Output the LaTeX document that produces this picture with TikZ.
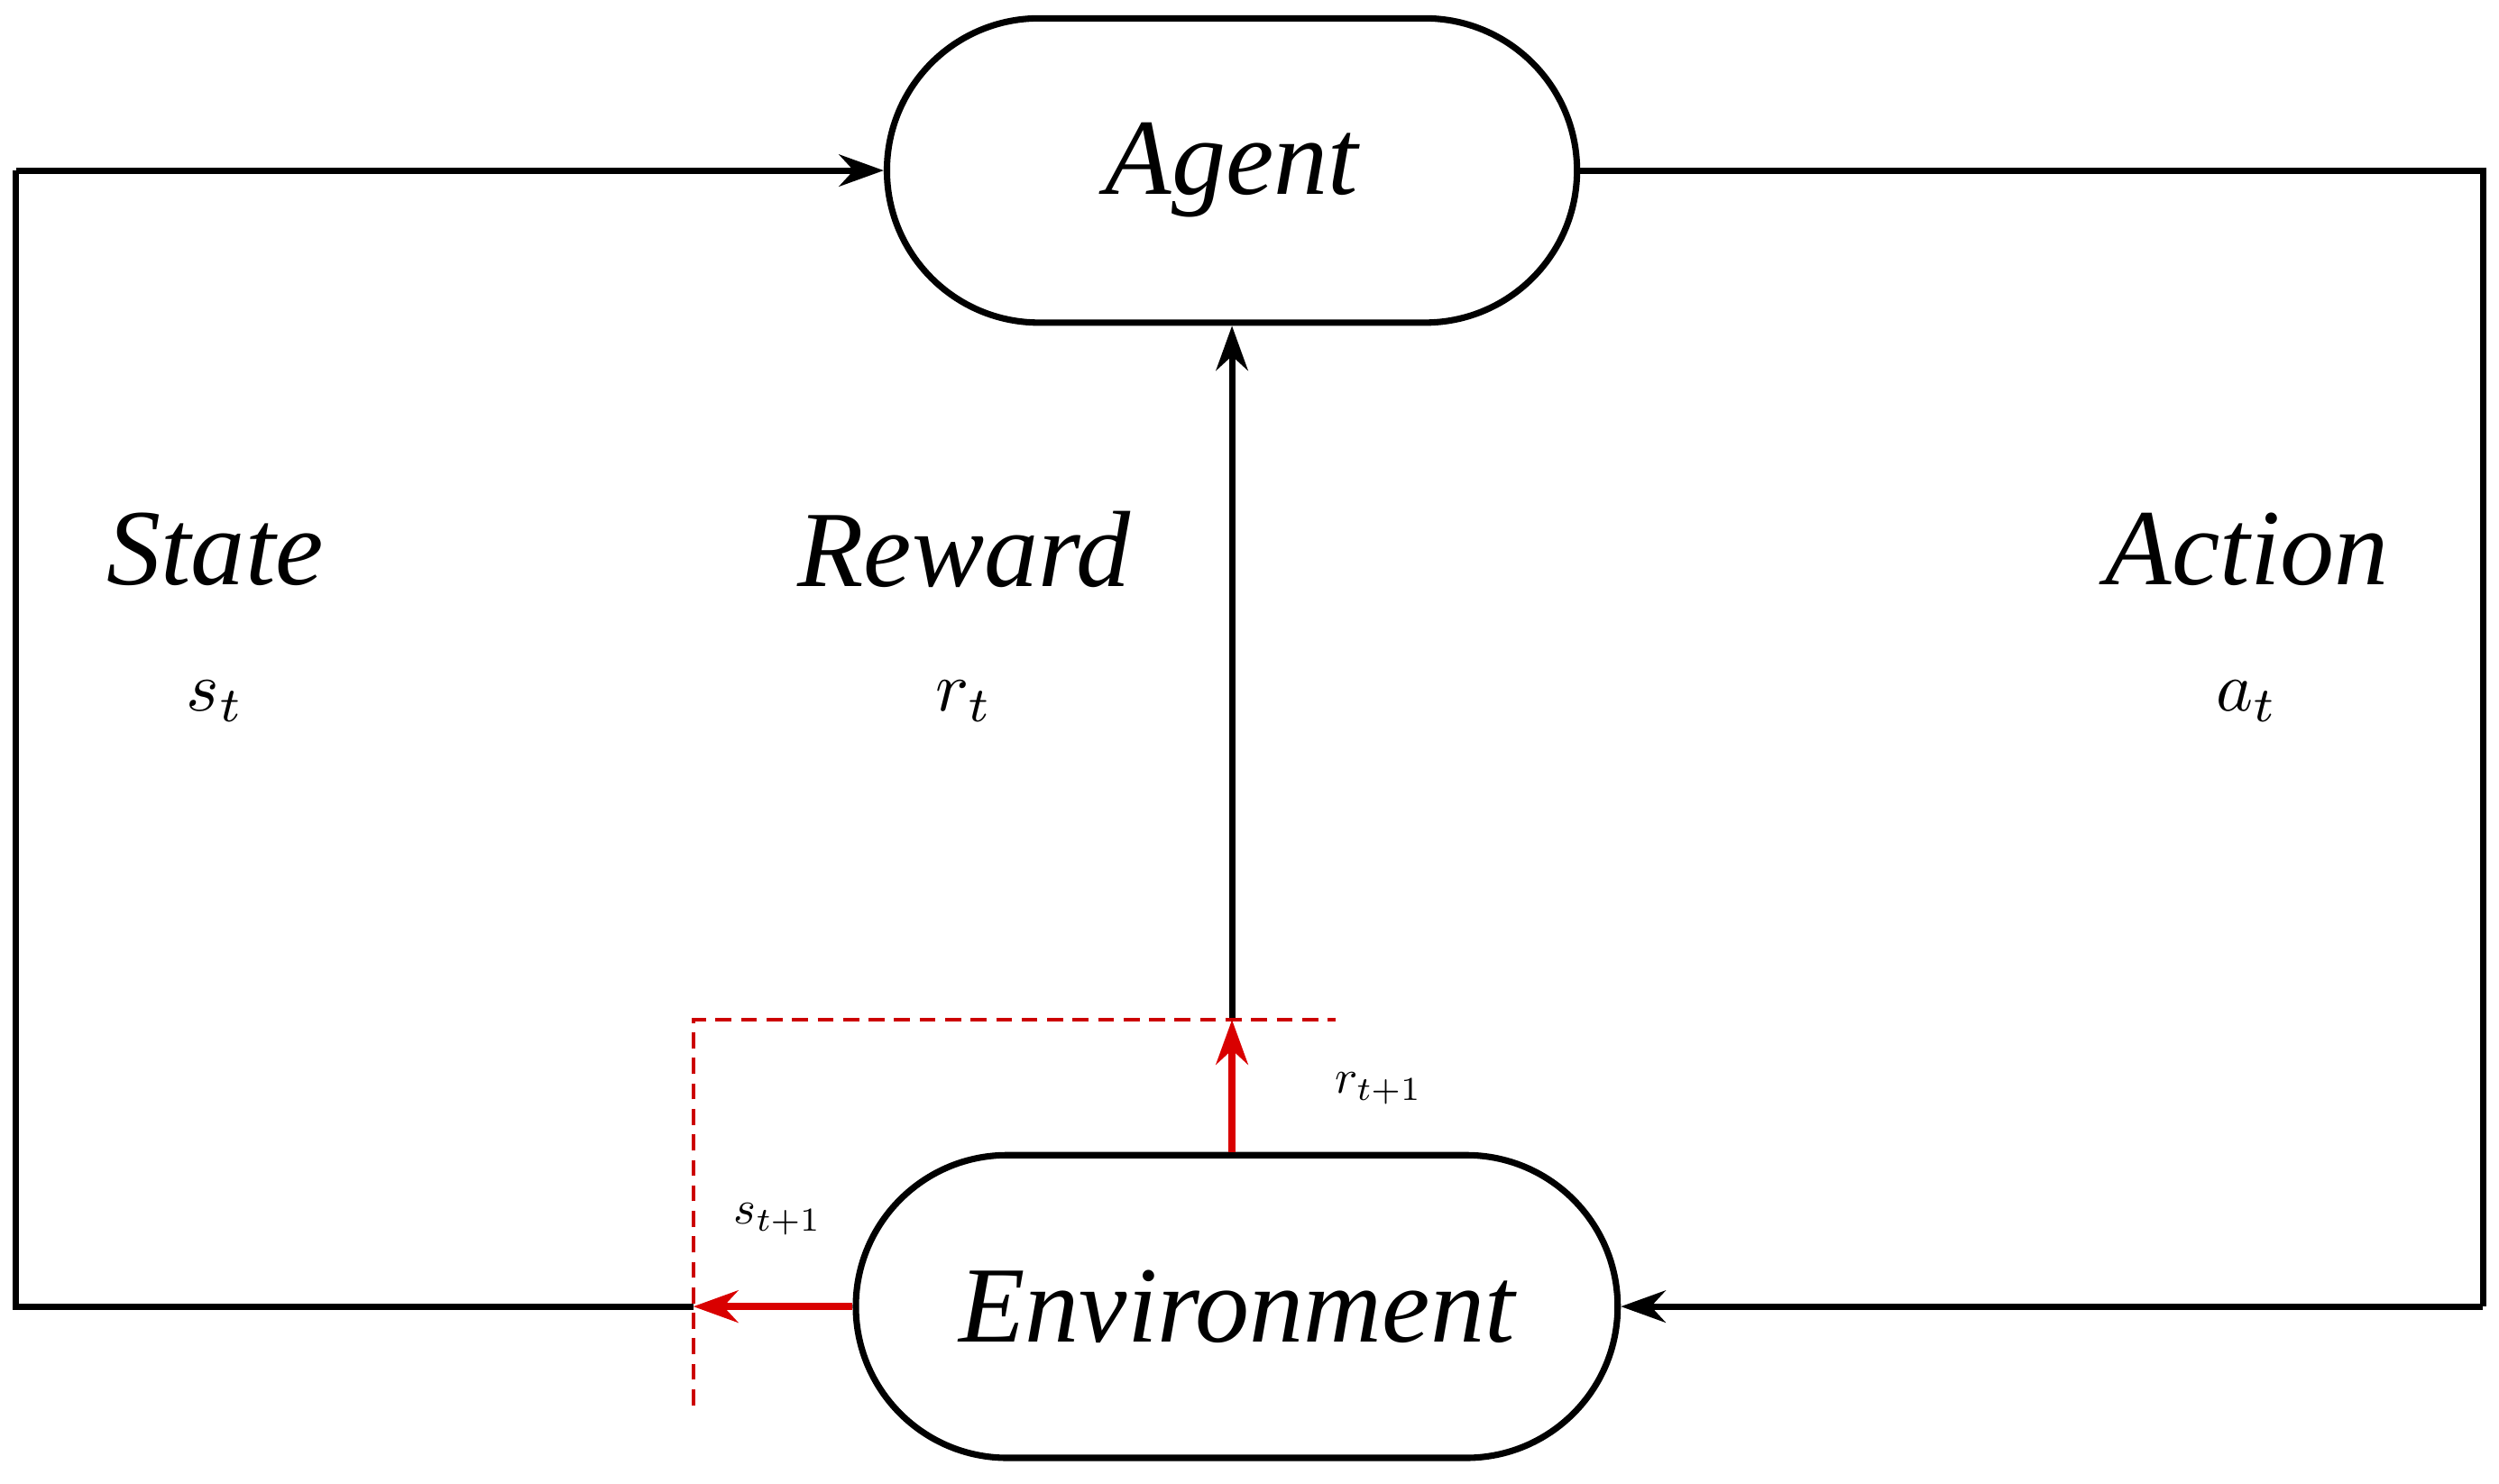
\documentclass[tikz,border=0pt]{standalone}
\usepackage{fontspec}
\setmainfont{Liberation Serif}
\usetikzlibrary{arrows.meta,shapes.misc}
\begin{document}
\begin{tikzpicture}[x=0.5pt,y=-0.5pt,
  box/.style={draw,line width=2pt,rounded rectangle,inner sep=0pt,font=\fontsize{34}{40}\selectfont\itshape},
  lbl/.style={font=\fontsize{34}{40}\selectfont\itshape,inner sep=0pt},
  mlbl/.style={inner sep=0pt},
  sm/.style={inner sep=0pt},
  arr/.style={line width=2pt,-{Stealth[length=14pt,width=10pt]}},
  rarr/.style={line width=2.4pt,red!85!black,-{Stealth[length=14pt,width=10pt]}}]
\useasboundingbox (0,0) rectangle (1568,931);
\node[box,minimum width=433*0.5pt,minimum height=191*0.5pt] (ag) at (773,107) {Agent};
\node[box,minimum width=478*0.5pt,minimum height=190*0.5pt] (env) at (776,820) {Environment};
\coordinate (tl) at (10,107);
\coordinate (bl) at (10,820);
\coordinate (tr) at (1558,107);
\coordinate (br) at (1558,820);
\coordinate (sp) at (435,820);
\coordinate (rp) at (773,640);
\draw[line width=2pt] (sp) -- (bl) -- (tl);
\draw[arr] (tl) -- (ag.west);
\draw[line width=2pt] (ag.east) -- (tr) -- (br);
\draw[arr] (br) -- (env.east);
\draw[arr] (rp) -- (ag.south);
\draw[rarr] (env.north -| rp) -- (rp);
\draw[rarr] (env.west) -- (sp);
\coordinate (d1) at (435,882);
\coordinate (d2) at (435,640);
\coordinate (d3) at (838,640);
\draw[red!80!black,line width=1pt,dash pattern=on 5pt off 3pt] (d1) -- (d2) -- (d3);
\node[lbl] (st) at (135,345) {State};
\node[mlbl] (s) at (135,440) {\scalebox{2.2}{$s_t$}};
\node[lbl] (rw) at (605,345) {Reward};
\node[mlbl] (r) at (605,440) {\scalebox{2.2}{$r_t$}};
\node[lbl] (ac) at (1410,345) {Action};
\node[mlbl] (a) at (1410,440) {\scalebox{2.2}{$a_t$}};
\node[sm] (r1) at (865,683) {\scalebox{1.5}{$r_{t+1}$}};
\node[sm] (s1) at (488,765) {\scalebox{1.5}{$s_{t+1}$}};
\end{tikzpicture}
\end{document}
